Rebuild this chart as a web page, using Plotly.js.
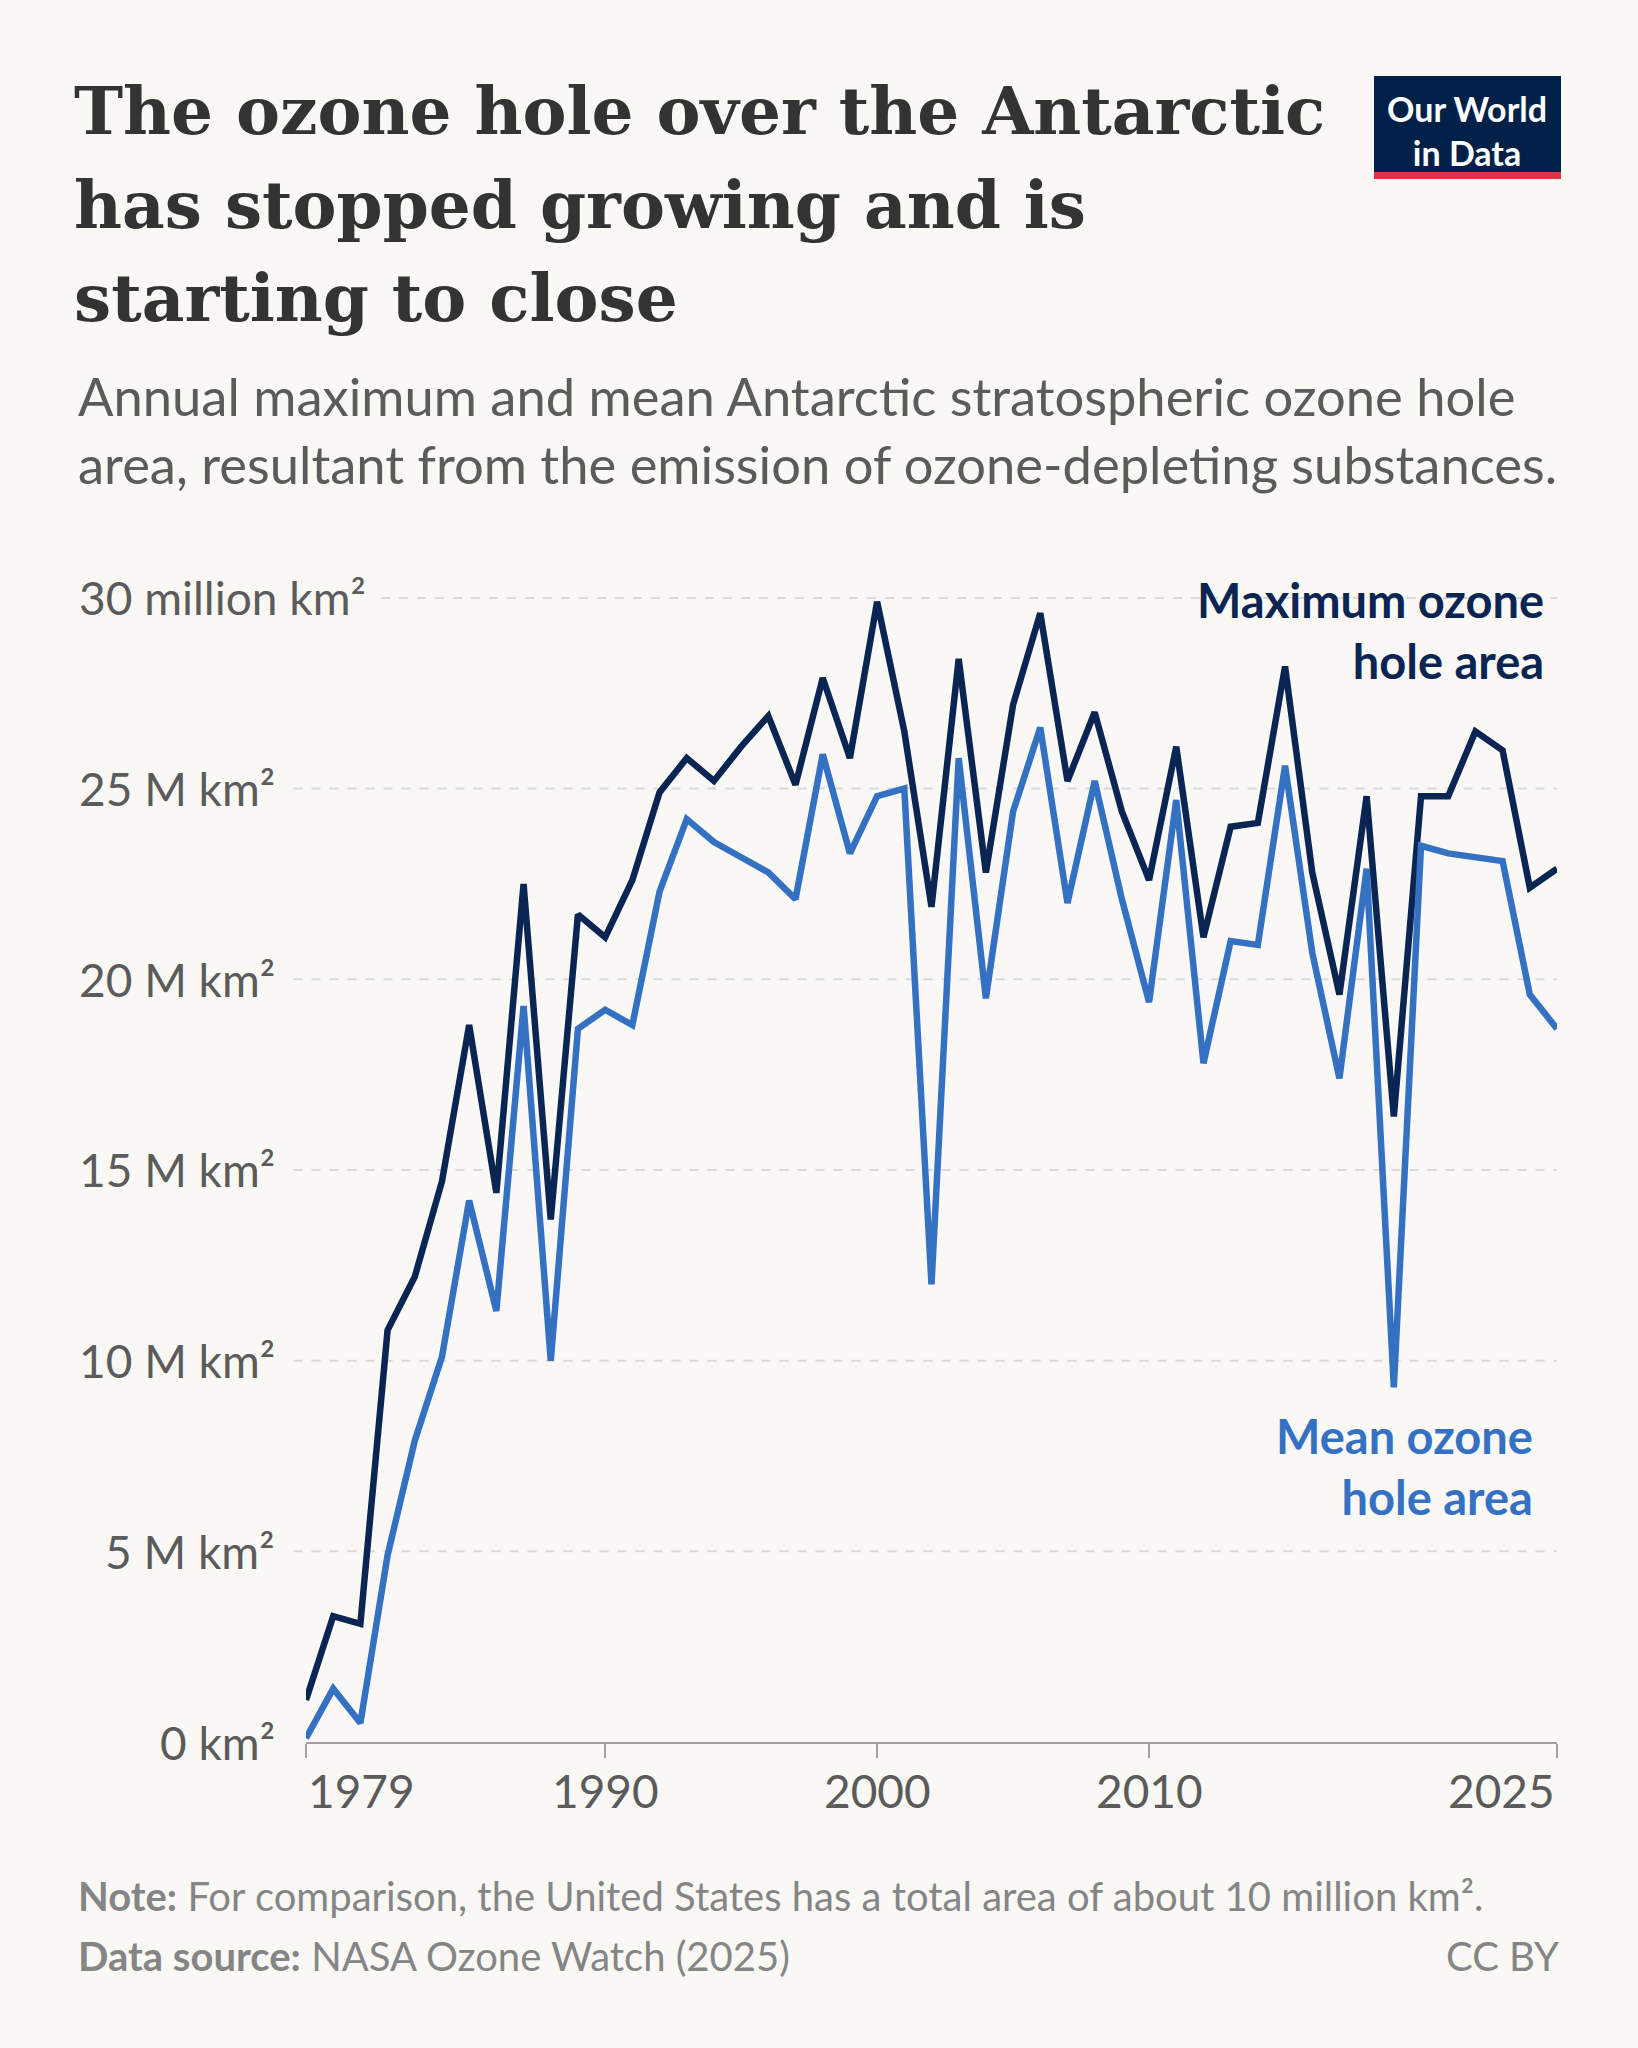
<!DOCTYPE html>
<html>
<head>
<meta charset="utf-8">
<script src="https://cdn.plot.ly/plotly-3.0.1.min.js"></script>
<style>
  html, body { margin: 0; padding: 0; background: #f9f8f5; }
  #chart { width: 1638px; height: 2048px; }
</style>
</head>
<body>
<div id="chart"></div>
<script>
const years = [];
for (let y = 1979; y <= 2025; y++) years.push(y);

// million km²
const maxArea = [1.1, 3.3, 3.1, 10.8, 12.2, 14.7, 18.8, 14.4, 22.5, 13.7,
  21.7, 21.1, 22.6, 24.9, 25.8, 25.2, 26.1, 26.9, 25.1, 27.9,
  25.8, 29.9, 26.5, 21.9, 28.4, 22.8, 27.2, 29.6, 25.2, 27.0,
  24.4, 22.6, 26.1, 21.1, 24.0, 24.1, 28.2, 22.8, 19.6, 24.8,
  16.4, 24.8, 24.8, 26.5, 26.0, 22.4, 22.9];
const meanArea = [0.1, 1.4, 0.5, 4.9, 7.9, 10.1, 14.2, 11.3, 19.3, 10.0,
  18.7, 19.2, 18.8, 22.3, 24.2, 23.6, 23.2, 22.8, 22.1, 25.9,
  23.3, 24.8, 25.0, 12.0, 25.8, 19.5, 24.4, 26.6, 22.0, 25.2,
  22.1, 19.4, 24.7, 17.8, 21.0, 20.9, 25.6, 20.7, 17.4, 22.9,
  9.3, 23.5, 23.3, 23.2, 23.1, 19.6, 18.7];

const yTicks = [0, 5, 10, 15, 20, 25, 30];
const yTickText = ["0 km²", "5 M km²", "10 M km²", "15 M km²", "20 M km²", "25 M km²", "30 million km²"];
const xTicks = [1979, 1990, 2000, 2010, 2025];
const titleLines = ["The ozone hole over the Antarctic", "has stopped growing and is", "starting to close"];

const maxColor = "#0b2553";
const meanColor = "#3571c2";
const textGray = "#5b5b5b";
const footGray = "#858585";
const lato = "Lato, 'Open Sans', sans-serif";

const data = [
  { x: years, y: maxArea, mode: "lines", type: "scatter",
    line: { color: maxColor, width: 6.5 }, hoverinfo: "skip" },
  { x: years, y: meanArea, mode: "lines", type: "scatter",
    line: { color: meanColor, width: 6.5 }, hoverinfo: "skip" },
];

const annotations = [];
const shapes = [];

// y tick labels and dashed grid lines
yTicks.forEach((v, i) => {
  const top = v === 30;
  annotations.push({
    xref: "paper", yref: "y", x: top ? -0.183 : -0.023, y: v,
    xanchor: top ? "left" : "right", yanchor: "middle",
    text: yTickText[i], showarrow: false,
    font: { family: lato, size: 46, color: textGray },
  });
  if (v > 0) {
    shapes.push({
      type: "line", xref: "paper", yref: "y",
      x0: top ? 0.06 : -0.01, x1: 1, y0: v, y1: v,
      line: { color: "#d9d9d9", width: 2, dash: "dash" }, layer: "below",
    });
  }
});

// x tick labels: ends are anchored inward
xTicks.forEach((v, i) => {
  annotations.push({
    xref: "x", yref: "paper", x: v, y: -0.017,
    xanchor: i === 0 ? "left" : (i === xTicks.length - 1 ? "right" : "center"),
    yanchor: "top", text: String(v), showarrow: false,
    font: { family: lato, size: 46, color: textGray },
  });
});

const text = (t, x, y, size, color, opts = {}) => Object.assign({
  xref: "paper", yref: "paper", x: x, y: y, text: t, showarrow: false,
  xanchor: "left", yanchor: "bottom", align: "left",
  font: { family: lato, size: size, color: color },
}, opts);

// pixel -> paper helpers (plot area: x 306..1557, y 596..1742)
const px = (x) => (x - 306) / 1251;
const py = (y) => (1742 - y) / 1146;

const titleTops = [70, 164, 257];
titleLines.forEach((t, i) => {
  annotations.push(text("<b>" + t + "</b>", px(72), py(titleTops[i]), 66, "#333333",
    { yanchor: "top", font: { family: "'DejaVu Serif', serif", size: 66, color: "#333333" } }));
});

annotations.push(
  text("Annual maximum and mean Antarctic stratospheric ozone hole<br>area, resultant from the emission of ozone-depleting substances.",
    px(76), py(362), 52.5, textGray, { yanchor: "top" }),
  text("<b>Maximum ozone<br>hole area</b>", px(1546), py(570), 47, maxColor,
    { xanchor: "right", yanchor: "top", align: "right" }),
  text("<b>Mean ozone<br>hole area</b>", px(1535), py(1406), 47, meanColor,
    { xanchor: "right", yanchor: "top", align: "right" }),
  text("<b>Note:</b> For comparison, the United States has a total area of about 10 million km².",
    px(76), py(1870), 40, footGray, { yanchor: "top" }),
  text("<b>Data source:</b> NASA Ozone Watch (2025)", px(76), py(1930), 40, footGray, { yanchor: "top" }),
  text("CC BY", px(1561), py(1930), 40, footGray, { xanchor: "right", yanchor: "top" }),
  text("<b>Our World<br>in Data</b>", px(1467), py(86), 34, "#ffffff",
    { xanchor: "center", yanchor: "top", align: "center" }),
);

// logo box
shapes.push(
  { type: "rect", xref: "paper", yref: "paper", x0: px(1374), x1: px(1561), y0: py(172), y1: py(76),
    fillcolor: "#002147", line: { width: 0 } },
  { type: "rect", xref: "paper", yref: "paper", x0: px(1374), x1: px(1561), y0: py(179), y1: py(172),
    fillcolor: "#dc3545", line: { width: 0 } },
);

const layout = {
  width: 1638, height: 2048,
  paper_bgcolor: "#f9f8f5", plot_bgcolor: "#f9f8f5",
  margin: { l: 306, r: 81, t: 596, b: 306 },
  showlegend: false,
  xaxis: {
    range: [1979, 2025], tickvals: xTicks, showticklabels: false,
    showgrid: false, zeroline: false, showline: true, linecolor: "#a0a0a0", linewidth: 2,
    ticks: "outside", ticklen: 14, tickcolor: "#a0a0a0", tickwidth: 2,
  },
  yaxis: {
    range: [0, 30.05], showgrid: false, zeroline: false, showticklabels: false, fixedrange: true,
  },
  annotations: annotations,
  shapes: shapes,
};

Plotly.newPlot("chart", data, layout, { staticPlot: true });
</script>
</body>
</html>
